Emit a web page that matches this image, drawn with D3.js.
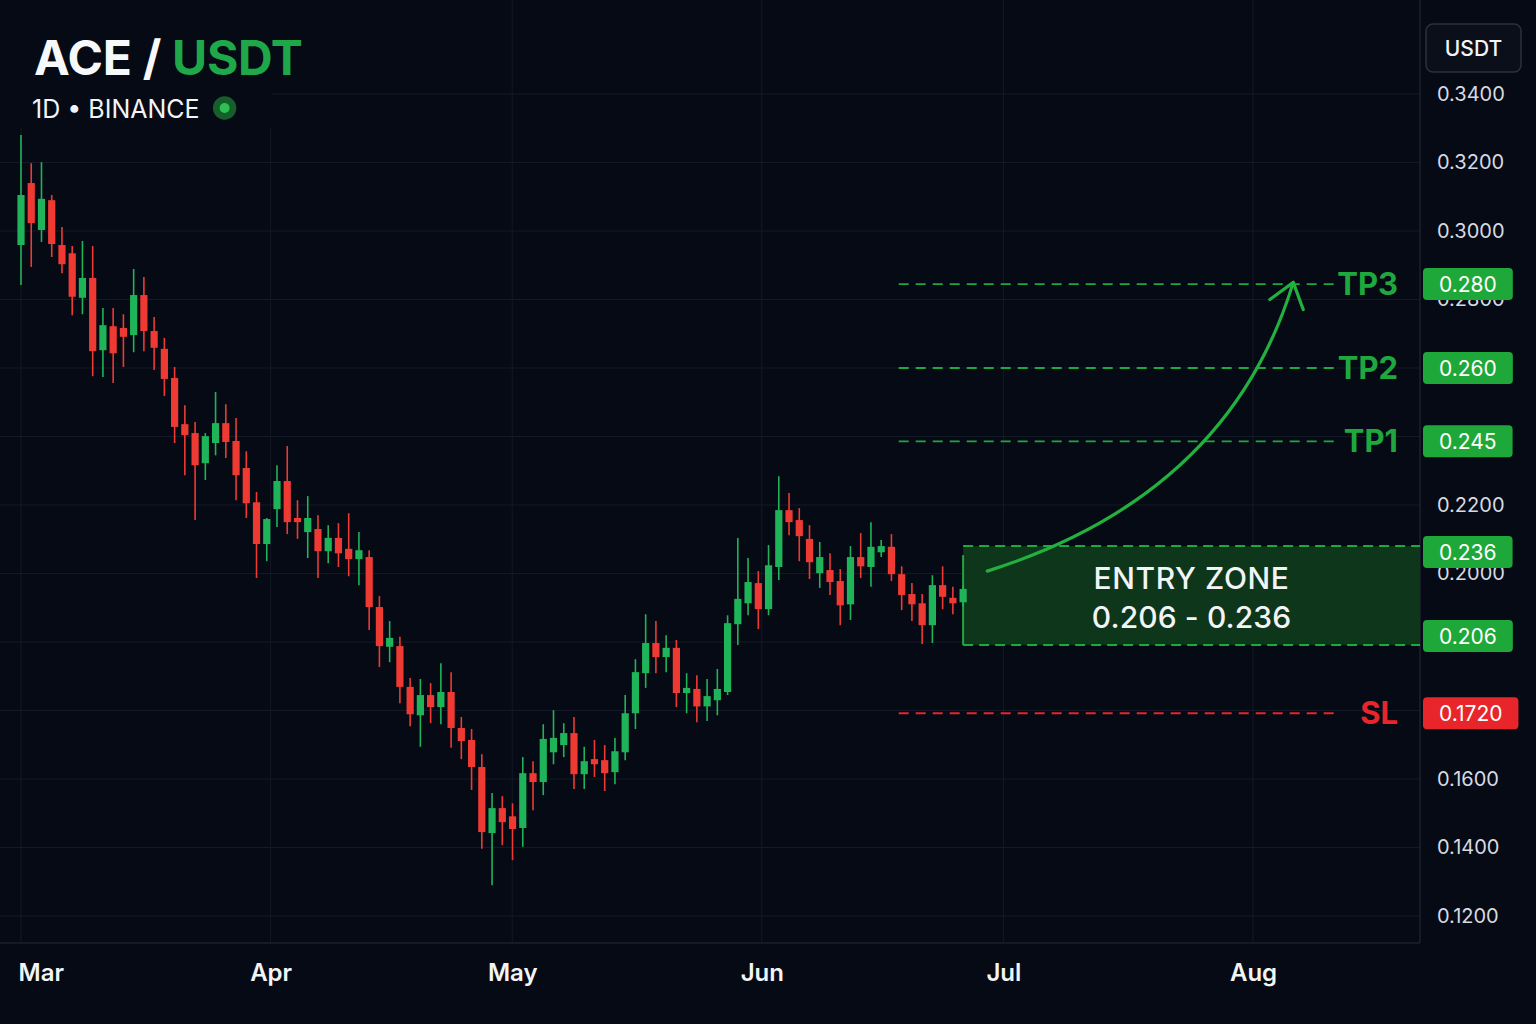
<!DOCTYPE html>
<html>
<head>
<meta charset="utf-8">
<script src="https://cdn.jsdelivr.net/npm/d3@7/dist/d3.min.js"></script>
<style>
  html, body { margin: 0; padding: 0; background: #060a14; }
  svg { display: block; font-family: Inter, "Noto Sans", "DejaVu Sans", sans-serif; }
</style>
</head>
<body>
<svg id="chart" width="1536" height="1024"></svg>
<script>
// ---------------- DATA ----------------
const basePair = "ACE";
const quotePair = "USDT";
const subtitle = "1D \u2022 BINANCE";
const axisUnit = "USDT";

// month ticks of the time axis
const monthDates = ["2024-03-01", "2024-04-01", "2024-05-01", "2024-06-01", "2024-07-01", "2024-08-01"];
const monthLabels = ["Mar", "Apr", "May", "Jun", "Jul", "Aug"];

// price grid (chart space) and the labels printed at each grid line in the picture
const priceTicks = [0.12, 0.14, 0.16, 0.18, 0.20, 0.22, 0.24, 0.26, 0.28, 0.30, 0.32, 0.34, 0.36];
const priceTickLabels = ["0.1200", "0.1400", "0.1600", "0.1800", "0.2000", "0.2000", "0.2200",
                         "0.2400", "0.2600", "0.2800", "0.3000", "0.3200", "0.3400"];

// daily candles, first and last candle dates
const firstCandleDate = "2024-03-01";
const lastCandleDate = "2024-06-26";
const opens = [0.3159,0.3340,0.3203,0.3290,0.3159,0.3135,0.3005,0.3063,0.2852,0.2922,
  0.2917,0.2896,0.3013,0.2908,0.2856,0.2771,0.2636,0.2610,0.2522,0.2581,
  0.2639,0.2587,0.2508,0.2408,0.2286,0.2388,0.2470,0.2362,0.2321,0.2330,
  0.2265,0.2304,0.2272,0.2242,0.2248,0.2102,0.1986,0.1988,0.1869,0.1786,
  0.1845,0.1810,0.1854,0.1749,0.1714,0.1635,0.1442,0.1515,0.1491,0.1457,
  0.1617,0.1591,0.1678,0.1699,0.1734,0.1614,0.1658,0.1655,0.1620,0.1678,
  0.1792,0.1909,0.1997,0.1956,0.1983,0.1851,0.1863,0.1812,0.1830,0.1854,
  0.2052,0.2113,0.2172,0.2096,0.2219,0.2385,0.2356,0.2301,0.2201,0.2210,
  0.2178,0.2110,0.2248,0.2219,0.2262,0.2278,0.2198,0.2140,0.2113,0.2049,
  0.2166,0.2129,0.2116];
const highs = [0.3480,0.3398,0.3401,0.3305,0.3212,0.3156,0.3171,0.3156,0.2975,0.2975,
  0.2957,0.3089,0.3066,0.2949,0.2888,0.2803,0.2691,0.2642,0.2610,0.2730,
  0.2694,0.2654,0.2557,0.2438,0.2362,0.2516,0.2572,0.2414,0.2426,0.2370,
  0.2341,0.2347,0.2376,0.2321,0.2268,0.2134,0.2061,0.2015,0.1895,0.1892,
  0.1880,0.1938,0.1912,0.1781,0.1746,0.1672,0.1559,0.1550,0.1529,0.1664,
  0.1652,0.1760,0.1801,0.1763,0.1781,0.1694,0.1714,0.1699,0.1720,0.1845,
  0.1950,0.2081,0.2061,0.2020,0.2006,0.1909,0.1903,0.1892,0.1921,0.2078,
  0.2304,0.2245,0.2207,0.2283,0.2484,0.2435,0.2391,0.2341,0.2292,0.2259,
  0.2213,0.2280,0.2318,0.2350,0.2298,0.2315,0.2221,0.2172,0.2140,0.2195,
  0.2221,0.2161,0.2166];
const lows = [0.3042,0.3095,0.3168,0.3124,0.3077,0.2954,0.2957,0.2776,0.2774,0.2756,
  0.2803,0.2846,0.2849,0.2794,0.2718,0.2581,0.2487,0.2356,0.2473,0.2545,
  0.2537,0.2414,0.2362,0.2187,0.2236,0.2336,0.2315,0.2301,0.2245,0.2187,
  0.2230,0.2219,0.2192,0.2166,0.2035,0.1927,0.1941,0.1821,0.1754,0.1694,
  0.1763,0.1760,0.1691,0.1658,0.1568,0.1396,0.1290,0.1407,0.1363,0.1402,
  0.1509,0.1553,0.1643,0.1664,0.1571,0.1571,0.1606,0.1565,0.1585,0.1655,
  0.1746,0.1866,0.1909,0.1912,0.1810,0.1792,0.1766,0.1769,0.1786,0.1845,
  0.1991,0.2078,0.2038,0.2078,0.2181,0.2312,0.2236,0.2184,0.2158,0.2137,
  0.2049,0.2064,0.2187,0.2161,0.2248,0.2178,0.2093,0.2061,0.1994,0.1997,
  0.2096,0.2081,0.2104];
const closes = [0.3305,0.3223,0.3294,0.3162,0.3103,0.3008,0.3063,0.2849,0.2925,0.2843,
  0.2891,0.3013,0.2908,0.2859,0.2768,0.2628,0.2604,0.2516,0.2601,0.2639,
  0.2584,0.2487,0.2405,0.2286,0.2359,0.2470,0.2350,0.2350,0.2362,0.2265,
  0.2304,0.2259,0.2242,0.2268,0.2102,0.1988,0.2012,0.1869,0.1789,0.1845,
  0.1810,0.1854,0.1749,0.1711,0.1635,0.1445,0.1515,0.1474,0.1454,0.1617,
  0.1591,0.1717,0.1720,0.1734,0.1614,0.1652,0.1643,0.1617,0.1681,0.1792,
  0.1912,0.1997,0.1956,0.1983,0.1851,0.1866,0.1812,0.1842,0.1863,0.2055,
  0.2126,0.2175,0.2096,0.2224,0.2385,0.2350,0.2309,0.2233,0.2248,0.2175,
  0.2107,0.2248,0.2221,0.2278,0.2280,0.2198,0.2137,0.2110,0.2049,0.2166,
  0.2132,0.2113,0.2155];

// trade levels: printed label and the chart-space price where the picture draws each line
const levelNames = ["TP3", "TP2", "TP1", "SL"];
const levelLabels = ["0.280", "0.260", "0.245", "0.1720"];
const levelPrices = [0.3045, 0.2800, 0.2586, 0.1792];
const levelKinds = ["tp", "tp", "tp", "sl"];
const levelStartDate = "2024-06-18";

// entry zone
const entryLabels = ["0.236", "0.206"];
const entryPrices = [0.2280, 0.1991];
const entryText = ["ENTRY ZONE", "0.206 - 0.236"];

// projected move arrow (start, control, tip)
const arrowDates = ["2024-06-29", "2024-07-29", "2024-08-06"];
const arrowPrices = [0.2207, 0.2429, 0.3050];

// ---------------- STYLE ----------------
const C = {
  bg: "#060a14", grid: "#131926", border: "#1b2130",
  up: "#1fb45a", down: "#ef3a33",
  tp: "#1fa83e", tpBox: "#1fa83a", sl: "#e8252a",
  zone: "#0e361b", text: "#f2f4f7", axisText: "#d6dae2", title: "#1fa84a"
};
const entryBoxNudge = [6, -9]; // the entry price boxes sit slightly inside the zone

// ---------------- CHART ----------------
const svg = d3.select("#chart");
const parse = d3.utcParse("%Y-%m-%d");
const plot = { left: 0, right: 1420, top: 0, bottom: 943 };

const x = d3.scaleUtc()
  .domain([parse(monthDates[0]), parse(monthDates[monthDates.length - 1])])
  .range([21, 1253]);
const y = d3.scaleLinear().domain([0.12, 0.36]).range([916, 94]);
const N = opens.length;
const xi = d3.scaleLinear().domain([0, N - 1])
  .range([x(parse(firstCandleDate)), x(parse(lastCandleDate))]);

svg.append("rect").attr("width", 1536).attr("height", 1024).attr("fill", C.bg);

// grid
const grid = svg.append("g");
grid.selectAll("line.h").data(priceTicks).join("line")
  .attr("class", "h")
  .attr("x1", plot.left).attr("x2", plot.right)
  .attr("y1", d => y(d)).attr("y2", d => y(d))
  .attr("stroke", C.grid).attr("stroke-width", 1);
grid.selectAll("line.v").data(monthDates).join("line")
  .attr("class", "v")
  .attr("x1", d => x(parse(d))).attr("x2", d => x(parse(d)))
  .attr("y1", plot.top).attr("y2", plot.bottom)
  .attr("stroke", C.grid).attr("stroke-width", 1);
// borders
svg.append("line").attr("x1", plot.left).attr("x2", plot.right)
  .attr("y1", plot.bottom).attr("y2", plot.bottom).attr("stroke", C.border).attr("stroke-width", 1.5);
svg.append("line").attr("x1", plot.right).attr("x2", plot.right)
  .attr("y1", plot.top).attr("y2", plot.bottom).attr("stroke", C.border).attr("stroke-width", 1.5);

// title backdrop (hides grid under the legend)
svg.append("rect").attr("x", 0).attr("y", 0).attr("width", 272).attr("height", 128).attr("fill", C.bg);

// y axis labels
const yAxis = d3.axisRight(y)
  .tickValues(priceTicks)
  .tickFormat((d, i) => priceTickLabels[i])
  .tickSize(0).tickPadding(17);
const gy = svg.append("g").attr("transform", `translate(${plot.right},0)`).call(yAxis);
gy.select(".domain").remove();
gy.selectAll("text").attr("fill", C.axisText).attr("font-size", 20)
  .attr("font-family", "Inter, sans-serif").attr("font-weight", 400);

// x axis labels
const xAxis = d3.axisBottom(x)
  .tickValues(monthDates.map(parse))
  .tickFormat((d, i) => monthLabels[i])
  .tickSize(0).tickPadding(21);
const gx = svg.append("g").attr("transform", `translate(0,${plot.bottom})`).call(xAxis);
gx.select(".domain").remove();
gx.selectAll("text").attr("fill", C.text).attr("font-size", 24)
  .attr("font-family", "Inter, sans-serif").attr("font-weight", 600);
gx.selectAll(".tick").filter((d, i) => i === 0).select("text")
  .attr("text-anchor", "start").attr("x", -3);

// entry zone (behind candles)
const zoneX0 = xi(N - 1);
const zoneTop = y(entryPrices[0]), zoneBot = y(entryPrices[1]);
svg.append("rect")
  .attr("x", zoneX0).attr("y", zoneTop)
  .attr("width", plot.right - zoneX0).attr("height", zoneBot - zoneTop)
  .attr("fill", C.zone);
svg.append("g").selectAll("line").data(entryPrices).join("line")
  .attr("x1", zoneX0).attr("x2", plot.right)
  .attr("y1", d => y(d)).attr("y2", d => y(d))
  .attr("stroke", C.tp).attr("stroke-width", 2).attr("stroke-dasharray", "10 6");
svg.append("line")
  .attr("x1", zoneX0).attr("x2", zoneX0)
  .attr("y1", zoneTop + 9).attr("y2", zoneBot)
  .attr("stroke", C.tp).attr("stroke-width", 2);

// candles
const candles = opens.map((o, i) => ({ i, o, h: highs[i], l: lows[i], c: closes[i] }));
const gc = svg.append("g");
gc.selectAll("line").data(candles).join("line")
  .attr("x1", d => xi(d.i)).attr("x2", d => xi(d.i))
  .attr("y1", d => y(d.h)).attr("y2", d => y(d.l))
  .attr("stroke", d => d.c >= d.o ? C.up : C.down).attr("stroke-width", 1.6);
gc.selectAll("rect").data(candles).join("rect")
  .attr("x", d => xi(d.i) - 3.6).attr("width", 7.2)
  .attr("y", d => y(Math.max(d.o, d.c)))
  .attr("height", d => Math.max(2, Math.abs(y(d.o) - y(d.c))))
  .attr("fill", d => d.c >= d.o ? C.up : C.down);

// zone text
const zoneCx = (zoneX0 + plot.right) / 2, zoneCy = (zoneTop + zoneBot) / 2;
svg.append("g").selectAll("text").data(entryText).join("text")
  .attr("x", zoneCx).attr("y", (d, i) => zoneCy - 7 + i * 39)
  .attr("text-anchor", "middle").attr("fill", C.text)
  .attr("font-size", 30).attr("font-weight", 500)
  .attr("letter-spacing", (d, i) => i === 0 ? 0.6 : 0.1)
  .text(d => d);

// level lines
const levels = levelNames.map((n, i) => ({ n, label: levelLabels[i], p: levelPrices[i], kind: levelKinds[i] }));
const lvX0 = x(parse(levelStartDate));
const lvTextX = 1398;
const gl = svg.append("g");
gl.selectAll("line").data(levels).join("line")
  .attr("x1", lvX0).attr("x2", lvTextX - 64)
  .attr("y1", d => y(d.p)).attr("y2", d => y(d.p))
  .attr("stroke", d => d.kind === "sl" ? C.sl : C.tp)
  .attr("stroke-width", 1.8).attr("stroke-dasharray", "10 7");
gl.selectAll("text").data(levels).join("text")
  .attr("x", lvTextX).attr("y", d => y(d.p)).attr("dy", "0.36em")
  .attr("text-anchor", "end").attr("font-size", 31).attr("font-weight", 700)
  .attr("fill", d => d.kind === "sl" ? C.sl : C.tp)
  .text(d => d.n);

// arrow
const a = arrowDates.map((d, i) => [x(parse(d)), y(arrowPrices[i])]);
const ap = d3.path();
ap.moveTo(a[0][0], a[0][1]);
ap.quadraticCurveTo(a[1][0], a[1][1], a[2][0], a[2][1]);
svg.append("path").attr("d", ap.toString()).attr("fill", "none")
  .attr("stroke", "#22b13f").attr("stroke-width", 3.2).attr("stroke-linecap", "round");
const ang = Math.atan2(a[2][1] - a[1][1], a[2][0] - a[1][0]) + Math.PI;
const armLen = 29, spread = 37 * Math.PI / 180;
const arm = s => [a[2][0] + armLen * Math.cos(ang + s), a[2][1] + armLen * Math.sin(ang + s)];
svg.append("path")
  .attr("d", d3.line()([arm(spread), a[2], arm(-spread)]))
  .attr("fill", "none").attr("stroke", "#22b13f").attr("stroke-width", 3.2)
  .attr("stroke-linecap", "round").attr("stroke-linejoin", "round");

// price boxes on the axis
const boxes = levels.map(d => ({ label: d.label, p: d.p, kind: d.kind, nudge: 0 }))
  .concat(entryLabels.map((l, i) => ({ label: l, p: entryPrices[i], kind: "tp", nudge: entryBoxNudge[i] })));
const gb = svg.append("g");
boxes.forEach(b => {
  const cy = y(b.p) + b.nudge;
  const g = gb.append("g");
  const t = g.append("text").attr("x", 0).attr("y", cy).attr("dy", "0.36em")
    .attr("text-anchor", "middle").attr("fill", "#ffffff")
    .attr("font-size", 21).attr("font-weight", 400).text(b.label);
  const w = t.node().getComputedTextLength() + 32;
  g.insert("rect", "text").attr("x", 1423).attr("y", cy - 16)
    .attr("width", w).attr("height", 32).attr("rx", 4)
    .attr("fill", b.kind === "sl" ? C.sl : C.tpBox);
  t.attr("x", 1423 + w / 2);
});

// unit box
svg.append("rect").attr("x", 1426).attr("y", 24).attr("width", 95).attr("height", 48).attr("rx", 7)
  .attr("fill", "#0a0f1a").attr("stroke", "#2a303d").attr("stroke-width", 1.5);
svg.append("text").attr("x", 1473.5).attr("y", 48).attr("dy", "0.36em")
  .attr("text-anchor", "middle").attr("fill", C.text).attr("font-size", 21).attr("font-weight", 500)
  .text(axisUnit);

// title
const title = svg.append("text").attr("x", 34).attr("y", 75)
  .attr("font-size", 48).attr("font-weight", 700).attr("letter-spacing", -0.3);
title.append("tspan").attr("fill", "#f7f8fa").text(basePair + " / ");
title.append("tspan").attr("fill", C.title).text(quotePair);
const sub = svg.append("text").attr("x", 32).attr("y", 118)
  .attr("font-size", 25).attr("font-weight", 400).attr("fill", C.text).text(subtitle);
const subW = sub.node().getComputedTextLength();
svg.append("circle").attr("cx", 32 + subW + 25).attr("cy", 108).attr("r", 11.7).attr("fill", "#175f2a");
svg.append("circle").attr("cx", 32 + subW + 25).attr("cy", 108).attr("r", 5).attr("fill", "#2fc055");
</script>
</body>
</html>
